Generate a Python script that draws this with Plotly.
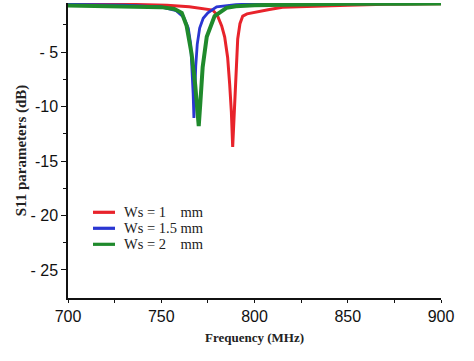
import plotly.graph_objects as go

# Frequency (MHz) and S11 (dB) values
freq_red = [700, 720, 740, 753, 765, 772, 777.6, 780, 782.4, 784, 785.6, 786.7, 787.6, 788.3,
            789.0, 790.0, 791.0, 792.2, 793.7, 796, 800, 808, 815, 830, 850, 870, 900]
s11_red = [-0.5, -0.55, -0.62, -0.7, -0.85, -1.0, -1.15, -1.6, -2.6, -3.6, -5.5, -8.0, -10.5, -13.7,
           -10.8, -6.6, -3.8, -2.4, -1.7, -1.5, -1.35, -1.1, -0.9, -0.8, -0.7, -0.62, -0.58]

freq_blue = [700, 730, 750, 758, 762, 764.5, 765.8, 766.5, 767.1, 767.5, 767.9, 768.5, 769.3,
             770.6, 772.5, 775, 779.7, 790, 800, 850, 900]
s11_blue = [-0.62, -0.7, -0.85, -1.2, -1.8, -2.8, -4.3, -6.3, -8.8, -11.05, -8.8, -6.3, -4.3,
            -2.8, -1.9, -1.4, -0.85, -0.65, -0.58, -0.56, -0.55]

freq_green = [700, 720, 740, 750, 757, 761, 763.6, 766.3, 768.2, 769.3, 770.1, 770.9, 772.2,
              774.4, 778.6, 785, 790, 800, 820, 850, 880, 900]
s11_green = [-0.72, -0.75, -0.8, -0.88, -1.05, -1.4, -2.6, -5.2, -8.0, -10.2, -11.8, -9.8, -6.4,
             -3.6, -1.7, -0.95, -0.8, -0.7, -0.62, -0.58, -0.56, -0.55]

names = ["Ws = 1\u00a0\u00a0\u00a0\u00a0mm", "Ws = 1.5 mm", "Ws = 2\u00a0\u00a0\u00a0\u00a0mm"]
colors = ["#e8232b", "#2a36d2", "#1f8a2c"]

y_tickvals = [-5, -10, -15, -20, -25]
y_ticktext = ["- 5", "-10", "-15", "- 20", "- 25"]
x_tickvals = [700, 750, 800, 850, 900]

fig = go.Figure()
series = [(freq_red, s11_red, 3.0), (freq_blue, s11_blue, 2.8), (freq_green, s11_green, 4.0)]
for (fx, fy, w), name, col in zip(series, names, colors):
    fig.add_trace(go.Scatter(x=fx, y=fy, mode="lines", name=name, showlegend=False,
                             line=dict(color=col, width=w)))

# Legend drawn as key lines + labels (compact spacing like the reference)
legend_x0, legend_x1, legend_tx = 0.067, 0.126, 0.145
legend_ys = [0.2905, 0.2363, 0.1820]
for name, col, ly in zip(names, colors, legend_ys):
    fig.add_shape(type="line", xref="paper", yref="paper", x0=legend_x0, x1=legend_x1,
                  y0=ly, y1=ly, line=dict(color=col, width=3.2))
    fig.add_annotation(xref="paper", yref="paper", x=legend_tx, y=ly, text=name,
                       showarrow=False, xanchor="left", yanchor="middle",
                       font=dict(family="Liberation Serif, Times New Roman, serif", size=14.5, color="#222"))

tickfont = dict(family="Liberation Sans, Arial, sans-serif", size=16, color="#111")
titlefont = dict(family="Liberation Serif, Times New Roman, serif", size=13, color="#222")

fig.update_layout(
    width=474, height=361,
    margin=dict(l=68, r=33, t=3, b=63, autoexpand=False),
    paper_bgcolor="white", plot_bgcolor="white",
    showlegend=False,
    xaxis=dict(range=[700, 900], tickvals=x_tickvals, ticks="outside", ticklen=3,
               tickcolor="#111", showline=True, linecolor="#111", linewidth=1.5,
               showgrid=False, zeroline=False, tickfont=tickfont, automargin=False,
               minor=dict(tickvals=[725, 775, 825, 875], ticks="outside", ticklen=3, tickcolor="#111"),
               title=dict(text="<b>Frequency (MHz)</b>", font=titlefont, standoff=9)),
    yaxis=dict(range=[-27.57, -0.5], tickvals=y_tickvals, ticktext=y_ticktext,
               ticks="outside", ticklen=5, tickcolor="#111", showline=True,
               linecolor="#111", linewidth=1.5, showgrid=False, zeroline=False,
               tickfont=tickfont, automargin=False,
               minor=dict(tickvals=[-2.5, -7.5, -12.5, -17.5, -22.5], ticks="outside",
                          ticklen=3, tickcolor="#111"),
               title=dict(text="<b>S11 parameters (dB)</b>",
                          font=dict(family="Liberation Serif, Times New Roman, serif", size=15, color="#222"),
                          standoff=0)),
    xaxis2=dict(overlaying="x", side="top", matches="x", range=[700, 900], automargin=False,
                tickvals=[750, 775, 800, 850], ticks="inside", ticklen=4, tickcolor="#111",
                showticklabels=False, showline=True, linecolor="#333", linewidth=1,
                showgrid=False, zeroline=False),
    yaxis2=dict(overlaying="y", side="right", matches="y", range=[-27.57, -0.5], automargin=False,
                tickvals=[-6.5, -10, -13.5, -16.5, -18.5, -22, -24], ticks="inside", ticklen=3,
                tickcolor="#999", showticklabels=False, showline=True, linecolor="#999",
                linewidth=1, showgrid=False, zeroline=False),
)

fig.write_html("out.html", config={"displayModeBar": False},
               post_script="document.body.style.margin='0';")
